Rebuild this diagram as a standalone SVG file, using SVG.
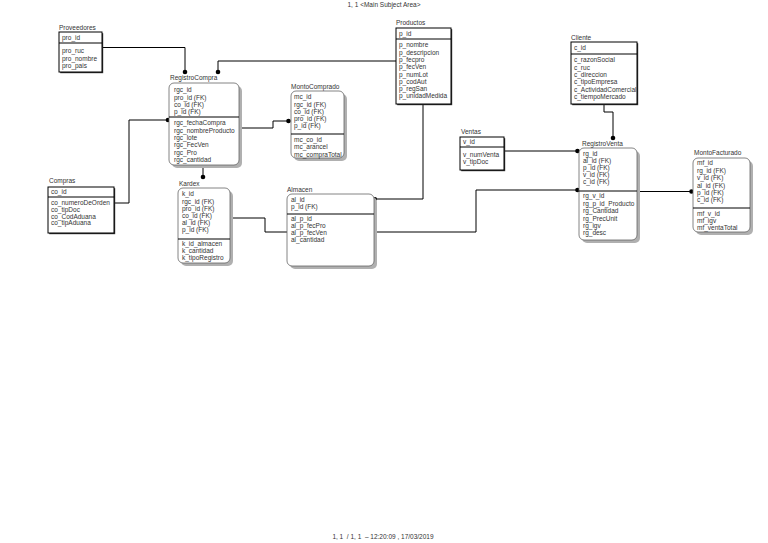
<svg xmlns="http://www.w3.org/2000/svg" width="768" height="543" viewBox="0 0 768 543">
<style>
.t{font-family:"Liberation Sans",Arial,sans-serif;font-size:6.5px;fill:#333}
.box{fill:#fff;stroke:#000;stroke-width:1}
.sh{fill:#333}
.rbox{fill:#fff;stroke:#666;stroke-width:0.8}
.rsh{fill:#b0b0b0}
.sep{stroke:#000;stroke-width:1}
.conn path{fill:none;stroke:#000;stroke-width:1}
.conn circle{fill:#000}
</style>
<rect width="768" height="543" fill="#fff"/>
<text class="t" x="384" y="7" text-anchor="middle">1, 1 &lt;Main Subject Area&gt;</text>

<g class="conn" id="connectors">
<path d="M102,47.5 H185 V72"/><circle cx="185" cy="72" r="2.3"/>
<path d="M396,61 H218 V72"/><circle cx="218" cy="72" r="2.3"/>
<path d="M114,203 H129 V120 H168"/><circle cx="168" cy="120" r="2.3"/>
<path d="M203,165 V177"/><circle cx="203" cy="177" r="2.3"/>
<path d="M239,128 H273 V121 H289"/><circle cx="288.5" cy="121" r="2.3"/>
<path d="M230,218 H265 V232 H287"/><circle cx="230" cy="218" r="1.6"/>
<path d="M374,199 H423 V104"/><circle cx="375" cy="199" r="2"/>
<path d="M374,232 H476 V190 H578"/><circle cx="577.5" cy="190" r="2.3"/>
<path d="M504,151 H578"/><circle cx="577.5" cy="151" r="2.3"/>
<path d="M604,104 V112 H613 V138"/><circle cx="613" cy="138" r="2.3"/>
<path d="M637,191.5 H692"/><circle cx="691.5" cy="191.5" r="2.3"/>
</g>

<g id="Proveedores">
<text class="t" x="59" y="29.5">Proveedores</text>
<rect class="sh" x="60.2" y="33.2" width="43" height="40"/>
<rect class="box" x="59" y="32" width="43" height="40"/>
<line class="sep" x1="59" y1="43" x2="102" y2="43"/>
<text class="t" x="62" y="40.3">pro_id</text>
<text class="t" x="62" y="53.3">pro_ruc</text>
<text class="t" x="62" y="60.6">pro_nombre</text>
<text class="t" x="62" y="67.9">pro_pais</text>
</g>

<g id="Productos">
<text class="t" x="396" y="24.5">Productos</text>
<rect class="sh" x="397.2" y="29.2" width="55" height="76"/>
<rect class="box" x="396" y="28" width="55" height="76"/>
<line class="sep" x1="396" y1="39" x2="451" y2="39"/>
<text class="t" x="399" y="36.3">p_id</text>
<text class="t" x="399" y="47.3">p_nombre</text>
<text class="t" x="399" y="54.6">p_descripcion</text>
<text class="t" x="399" y="61.9">p_fecpro</text>
<text class="t" x="399" y="69.2">p_fecVen</text>
<text class="t" x="399" y="76.5">p_numLot</text>
<text class="t" x="399" y="83.8">p_codAut</text>
<text class="t" x="399" y="91.1">p_regSan</text>
<text class="t" x="399" y="98.4">p_unidadMedida</text>
</g>

<g id="Cliente">
<text class="t" x="571" y="39.5">Cliente</text>
<rect class="sh" x="572.2" y="43.2" width="66" height="62"/>
<rect class="box" x="571" y="42" width="66" height="62"/>
<line class="sep" x1="571" y1="54" x2="637" y2="54"/>
<text class="t" x="574" y="50.3">c_id</text>
<text class="t" x="574" y="62.3">c_razonSocial</text>
<text class="t" x="574" y="69.6">c_ruc</text>
<text class="t" x="574" y="76.9">c_direccion</text>
<text class="t" x="574" y="84.2">c_tipoEmpresa</text>
<text class="t" x="574" y="91.5">c_ActividadComercial</text>
<text class="t" x="574" y="98.8">c_tiempoMercado</text>
</g>

<g id="RegistroCompra">
<text class="t" x="170" y="79.5">RegistroCompra</text>
<rect class="rsh" x="172" y="86" width="70" height="82" rx="5"/>
<rect class="rbox" x="169" y="83" width="70" height="82" rx="5"/>
<line class="sep" x1="169" y1="117" x2="239" y2="117"/>
<text class="t" x="174" y="92.3">rgc_id</text>
<text class="t" x="174" y="99.5">pro_id (FK)</text>
<text class="t" x="174" y="106.5">co_id (FK)</text>
<text class="t" x="174" y="113.5">p_id (FK)</text>
<text class="t" x="174" y="125.3">rgc_fechaCompra</text>
<text class="t" x="174" y="132.6">rgc_nombreProducto</text>
<text class="t" x="174" y="139.9">rgc_lote</text>
<text class="t" x="174" y="147.2">rgc_FecVen</text>
<text class="t" x="174" y="154.5">rgc_Pro</text>
<text class="t" x="174" y="161.8">rgc_cantidad</text>
</g>

<g id="MontoComprado">
<text class="t" x="291" y="88.5">MontoComprado</text>
<rect class="rsh" x="294" y="94" width="53" height="67" rx="5"/>
<rect class="rbox" x="291" y="91" width="53" height="67" rx="5"/>
<line class="sep" x1="291" y1="134" x2="344" y2="134"/>
<text class="t" x="294" y="99.3">mc_id</text>
<text class="t" x="294" y="106.5">rgc_id (FK)</text>
<text class="t" x="294" y="113.7">co_id (FK)</text>
<text class="t" x="294" y="120.9">pro_id (FK)</text>
<text class="t" x="294" y="128.1">p_id (FK)</text>
<text class="t" x="294" y="142.3">mc_co_id</text>
<text class="t" x="294" y="149.4">mc_arancel</text>
<text class="t" x="294" y="156.5">mc_compraTotal</text>
</g>

<g id="Compras">
<text class="t" x="49" y="182.5">Compras</text>
<rect class="sh" x="49.2" y="188.2" width="66" height="46"/>
<rect class="box" x="48" y="187" width="66" height="46"/>
<line class="sep" x1="48" y1="197" x2="114" y2="197"/>
<text class="t" x="51" y="193.5">co_id</text>
<text class="t" x="51" y="205.3">co_numeroDeOrden</text>
<text class="t" x="51" y="212">co_tipDoc</text>
<text class="t" x="51" y="218.7">co_CodAduana</text>
<text class="t" x="51" y="225.4">co_tipAduana</text>
</g>

<g id="Kardex">
<text class="t" x="179" y="185.5">Kardex</text>
<rect class="rsh" x="181" y="191" width="52" height="75" rx="5"/>
<rect class="rbox" x="178" y="188" width="52" height="75" rx="5"/>
<line class="sep" x1="178" y1="239" x2="230" y2="239"/>
<text class="t" x="182" y="196.3">k_id</text>
<text class="t" x="182" y="203.5">rgc_id (FK)</text>
<text class="t" x="182" y="210.7">pro_id (FK)</text>
<text class="t" x="182" y="217.9">co_id (FK)</text>
<text class="t" x="182" y="225.1">al_id (FK)</text>
<text class="t" x="182" y="232.3">p_id (FK)</text>
<text class="t" x="182" y="246.3">k_id_almacen</text>
<text class="t" x="182" y="253.3">k_cantidad</text>
<text class="t" x="182" y="260.3">k_tipoRegistro</text>
</g>

<g id="Almacen">
<text class="t" x="287" y="192">Almacen</text>
<rect class="rsh" x="290" y="197" width="87" height="72" rx="5"/>
<rect class="rbox" x="287" y="194" width="87" height="72" rx="5"/>
<line class="sep" x1="287" y1="214" x2="374" y2="214"/>
<text class="t" x="291" y="202.3">al_id</text>
<text class="t" x="291" y="209.3">p_id (FK)</text>
<text class="t" x="291" y="221.3">al_p_id</text>
<text class="t" x="291" y="228.3">al_p_fecPro</text>
<text class="t" x="291" y="235.3">al_p_fecVen</text>
<text class="t" x="291" y="242.3">al_cantidad</text>
</g>

<g id="Ventas">
<text class="t" x="461" y="133.5">Ventas</text>
<rect class="sh" x="461.2" y="138.2" width="44" height="33"/>
<rect class="box" x="460" y="137" width="44" height="33"/>
<line class="sep" x1="460" y1="147" x2="504" y2="147"/>
<text class="t" x="463" y="143.5">v_id</text>
<text class="t" x="463" y="157.3">v_numVenta</text>
<text class="t" x="463" y="164.3">v_tipDoc</text>
</g>

<g id="RegistroVenta">
<text class="t" x="582" y="146">RegistroVenta</text>
<rect class="rsh" x="582" y="151" width="58" height="92" rx="5"/>
<rect class="rbox" x="579" y="148" width="58" height="92" rx="5"/>
<line class="sep" x1="579" y1="191" x2="637" y2="191"/>
<text class="t" x="583" y="156.3">rg_id</text>
<text class="t" x="583" y="163.3">al_id (FK)</text>
<text class="t" x="583" y="170.3">p_id (FK)</text>
<text class="t" x="583" y="177.3">v_id (FK)</text>
<text class="t" x="583" y="184.3">c_id (FK)</text>
<text class="t" x="583" y="198.3">rg_v_id</text>
<text class="t" x="583" y="205.7">rg_p_id_Producto</text>
<text class="t" x="583" y="213.1">rg_Cantidad</text>
<text class="t" x="583" y="220.5">rg_PrecUnit</text>
<text class="t" x="583" y="227.9">rg_igv</text>
<text class="t" x="583" y="235.3">rg_desc</text>
</g>

<g id="MontoFacturado">
<text class="t" x="694" y="155">MontoFacturado</text>
<rect class="rsh" x="696" y="161" width="57" height="74" rx="5"/>
<rect class="rbox" x="693" y="158" width="57" height="74" rx="5"/>
<line class="sep" x1="693" y1="208" x2="750" y2="208"/>
<text class="t" x="697" y="165.3">mf_id</text>
<text class="t" x="697" y="172.7">rg_id (FK)</text>
<text class="t" x="697" y="180.1">v_id (FK)</text>
<text class="t" x="697" y="187.5">al_id (FK)</text>
<text class="t" x="697" y="194.9">p_id (FK)</text>
<text class="t" x="697" y="202.3">c_id (FK)</text>
<text class="t" x="697" y="216">mf_v_id</text>
<text class="t" x="697" y="223">mf_igv</text>
<text class="t" x="697" y="230">mf_ventaTotal</text>
</g>

<text class="t" x="383" y="539" text-anchor="middle" xml:space="preserve">1, 1  / 1, 1  – 12:20:09 , 17/03/2019</text>
</svg>
